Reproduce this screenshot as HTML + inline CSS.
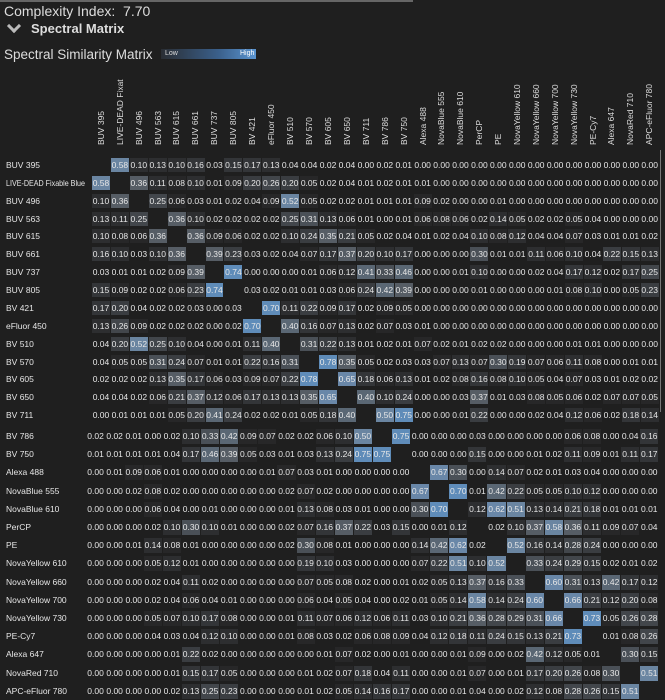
<!DOCTYPE html>
<html><head><meta charset="utf-8"><style>
body{margin:0;width:665px;height:700px;background:#1f1f1f;overflow:hidden;position:relative;font-family:"Liberation Sans",sans-serif;color:#e6e6e6}
.r{position:absolute;left:0;height:15px;width:665px}
.r span{position:absolute;top:2px;font-size:8.5px;white-space:nowrap}
.t span{left:6px}.u span{left:6px}
.r div{position:absolute;top:0;display:flex}
.t div{left:92px}.u div{left:86.5px}
b{font-weight:normal;display:block;height:14px;line-height:14px;text-align:center;font-size:8.5px;margin-right:1px;flex:none}
.t b{width:17.93px}.u b{width:18.1px;height:15px;line-height:15px}
.a{background:#272728}.b{background:#2d2e30}.c{background:#333538}.d{background:#3a3d41}.e{background:#42464b}.f{background:#4a5057}.g{background:#565d65}.h{background:#5a6774}.i{background:#6a85a1}.j{background:#6987a8}.k{background:#5f8cb9}
</style></head><body>
<div style="position:absolute;left:0;top:0;width:413px;height:2px;background:#666"></div>
<div style="position:absolute;left:4px;top:3px;font-size:14px;color:#ddd">Complexity Index:&nbsp; 7.70</div>
<div style="position:absolute;left:9px;top:21px;width:7px;height:7px;border-right:3px solid #bbb;border-bottom:3px solid #bbb;transform:rotate(45deg)"></div>
<div style="position:absolute;left:31px;top:21px;font-size:13px;font-weight:bold;color:#ddd">Spectral Matrix</div>
<div style="position:absolute;left:4px;top:47px;font-size:13.5px;color:#ddd">Spectral Similarity Matrix</div>
<div style="position:absolute;left:161px;top:49px;width:95px;height:10px;background:linear-gradient(90deg,#2a2e34,#3a5f8a 60%,#5a94d0)"></div>
<div style="position:absolute;left:165px;top:50px;font-size:7px;color:#ddd">Low</div>
<div style="position:absolute;left:240px;top:50px;font-size:7px;color:#fff">High</div>
<div style="position:absolute;left:660px;top:150px;width:1px;height:262px;background:#777"></div>
<svg width="665" height="150" style="position:absolute;left:0;top:0" font-family="Liberation Sans, sans-serif" font-size="8.5" fill="#ddd">
<text transform="translate(104,145) rotate(-90)">BUV 395</text>
<text transform="translate(123,145) rotate(-90)">LIVE-DEAD Fixat</text>
<text transform="translate(142,145) rotate(-90)">BUV 496</text>
<text transform="translate(161,145) rotate(-90)">BUV 563</text>
<text transform="translate(179,145) rotate(-90)">BUV 615</text>
<text transform="translate(198,145) rotate(-90)">BUV 661</text>
<text transform="translate(217,145) rotate(-90)">BUV 737</text>
<text transform="translate(236,145) rotate(-90)">BUV 805</text>
<text transform="translate(255,145) rotate(-90)">BV 421</text>
<text transform="translate(274,145) rotate(-90)">eFluor 450</text>
<text transform="translate(293,145) rotate(-90)">BV 510</text>
<text transform="translate(312,145) rotate(-90)">BV 570</text>
<text transform="translate(331,145) rotate(-90)">BV 605</text>
<text transform="translate(350,145) rotate(-90)">BV 650</text>
<text transform="translate(369,145) rotate(-90)">BV 711</text>
<text transform="translate(388,145) rotate(-90)">BV 786</text>
<text transform="translate(407,145) rotate(-90)">BV 750</text>
<text transform="translate(426,145) rotate(-90)">Alexa 488</text>
<text transform="translate(444,145) rotate(-90)">NovaBlue 555</text>
<text transform="translate(463,145) rotate(-90)">NovaBlue 610</text>
<text transform="translate(482,145) rotate(-90)">PerCP</text>
<text transform="translate(501,145) rotate(-90)">PE</text>
<text transform="translate(520,145) rotate(-90)">NovaYellow 610</text>
<text transform="translate(539,145) rotate(-90)">NovaYellow 660</text>
<text transform="translate(558,145) rotate(-90)">NovaYellow 700</text>
<text transform="translate(577,145) rotate(-90)">NovaYellow 730</text>
<text transform="translate(596,145) rotate(-90)">PE-Cy7</text>
<text transform="translate(614,145) rotate(-90)">Alexa 647</text>
<text transform="translate(633,145) rotate(-90)">NovaRed 710</text>
<text transform="translate(652,145) rotate(-90)">APC-eFluor 780</text>
</svg>

<div class="r t" style="top:158px"><span>BUV 395</span><div><b></b><b class=i>0.58</b><b class=b>0.10</b><b class=b>0.13</b><b class=b>0.10</b><b class=c>0.16</b><b>0.03</b><b class=c>0.15</b><b class=c>0.17</b><b class=b>0.13</b><b>0.04</b><b>0.04</b><b>0.02</b><b>0.04</b><b>0.00</b><b>0.02</b><b>0.01</b><b>0.00</b><b>0.00</b><b>0.00</b><b>0.00</b><b>0.00</b><b>0.00</b><b>0.00</b><b>0.00</b><b>0.00</b><b>0.00</b><b>0.00</b><b>0.00</b><b>0.00</b></div></div>
<div class="r t" style="top:175.9px"><span style="transform:scaleX(0.84);transform-origin:0 0">LIVE-DEAD Fixable Blue</span><div><b class=i>0.58</b><b></b><b class=g>0.36</b><b class=b>0.11</b><b class=a>0.08</b><b class=b>0.10</b><b>0.01</b><b class=a>0.09</b><b class=d>0.20</b><b class=e>0.26</b><b class=d>0.20</b><b class=a>0.05</b><b>0.02</b><b>0.04</b><b>0.01</b><b>0.02</b><b>0.01</b><b>0.01</b><b>0.00</b><b>0.00</b><b>0.00</b><b>0.00</b><b>0.00</b><b>0.00</b><b>0.00</b><b>0.00</b><b>0.00</b><b>0.00</b><b>0.00</b><b>0.00</b></div></div>
<div class="r t" style="top:193.7px"><span>BUV 496</span><div><b class=b>0.10</b><b class=g>0.36</b><b></b><b class=e>0.25</b><b class=a>0.06</b><b>0.03</b><b>0.01</b><b>0.02</b><b>0.04</b><b class=a>0.09</b><b class=i>0.52</b><b class=a>0.05</b><b>0.02</b><b>0.02</b><b>0.01</b><b>0.01</b><b>0.01</b><b class=a>0.09</b><b>0.02</b><b>0.00</b><b>0.00</b><b>0.01</b><b>0.00</b><b>0.00</b><b>0.00</b><b>0.00</b><b>0.00</b><b>0.00</b><b>0.00</b><b>0.00</b></div></div>
<div class="r t" style="top:211.6px"><span>BUV 563</span><div><b class=b>0.13</b><b class=b>0.11</b><b class=e>0.25</b><b></b><b class=g>0.36</b><b class=b>0.10</b><b>0.02</b><b>0.02</b><b>0.02</b><b>0.02</b><b class=e>0.25</b><b class=f>0.31</b><b class=b>0.13</b><b class=a>0.06</b><b>0.01</b><b>0.00</b><b>0.01</b><b class=a>0.06</b><b class=a>0.08</b><b class=a>0.06</b><b>0.02</b><b class=b>0.14</b><b class=a>0.05</b><b>0.02</b><b>0.02</b><b class=a>0.05</b><b>0.04</b><b>0.00</b><b>0.00</b><b>0.00</b></div></div>
<div class="r t" style="top:229.4px"><span>BUV 615</span><div><b class=b>0.10</b><b class=a>0.08</b><b class=a>0.06</b><b class=g>0.36</b><b></b><b class=g>0.36</b><b class=a>0.09</b><b class=a>0.06</b><b>0.02</b><b>0.02</b><b class=b>0.10</b><b class=d>0.24</b><b class=g>0.35</b><b class=d>0.21</b><b class=a>0.05</b><b>0.02</b><b>0.04</b><b>0.01</b><b>0.02</b><b>0.04</b><b class=b>0.10</b><b class=a>0.08</b><b class=b>0.12</b><b>0.04</b><b>0.04</b><b class=a>0.07</b><b>0.03</b><b>0.01</b><b>0.01</b><b>0.02</b></div></div>
<div class="r t" style="top:247.3px"><span>BUV 661</span><div><b class=c>0.16</b><b class=b>0.10</b><b>0.03</b><b class=b>0.10</b><b class=g>0.36</b><b></b><b class=g>0.39</b><b class=d>0.23</b><b>0.03</b><b>0.02</b><b>0.04</b><b class=a>0.07</b><b class=c>0.17</b><b class=g>0.37</b><b class=d>0.20</b><b class=b>0.10</b><b class=c>0.17</b><b>0.00</b><b>0.00</b><b>0.00</b><b class=f>0.30</b><b>0.01</b><b>0.01</b><b class=b>0.11</b><b class=a>0.06</b><b class=b>0.10</b><b>0.04</b><b class=d>0.22</b><b class=c>0.15</b><b class=b>0.13</b></div></div>
<div class="r t" style="top:265.2px"><span>BUV 737</span><div><b>0.03</b><b>0.01</b><b>0.01</b><b>0.02</b><b class=a>0.09</b><b class=g>0.39</b><b></b><b class=k>0.74</b><b>0.00</b><b>0.00</b><b>0.00</b><b>0.01</b><b class=a>0.06</b><b class=b>0.12</b><b class=h>0.41</b><b class=f>0.33</b><b class=h>0.46</b><b>0.00</b><b>0.00</b><b>0.01</b><b class=b>0.10</b><b>0.00</b><b>0.00</b><b>0.02</b><b>0.04</b><b class=c>0.17</b><b class=b>0.12</b><b>0.02</b><b class=c>0.17</b><b class=e>0.25</b></div></div>
<div class="r t" style="top:283px"><span>BUV 805</span><div><b class=c>0.15</b><b class=a>0.09</b><b>0.02</b><b>0.02</b><b class=a>0.06</b><b class=d>0.23</b><b class=k>0.74</b><b></b><b>0.03</b><b>0.02</b><b>0.01</b><b>0.01</b><b>0.03</b><b class=a>0.06</b><b class=d>0.24</b><b class=h>0.42</b><b class=g>0.39</b><b>0.00</b><b>0.00</b><b>0.00</b><b>0.01</b><b>0.00</b><b>0.00</b><b>0.00</b><b>0.01</b><b class=a>0.08</b><b class=b>0.10</b><b>0.00</b><b class=a>0.05</b><b class=d>0.23</b></div></div>
<div class="r t" style="top:300.9px"><span>BV 421</span><div><b class=c>0.17</b><b class=d>0.20</b><b>0.04</b><b>0.02</b><b>0.02</b><b>0.03</b><b>0.00</b><b>0.03</b><b></b><b class=k>0.70</b><b class=b>0.11</b><b class=d>0.22</b><b class=a>0.09</b><b class=c>0.17</b><b>0.02</b><b class=a>0.09</b><b class=a>0.05</b><b>0.00</b><b>0.00</b><b>0.00</b><b>0.00</b><b>0.00</b><b>0.00</b><b>0.00</b><b>0.00</b><b>0.00</b><b>0.00</b><b>0.00</b><b>0.00</b><b>0.00</b></div></div>
<div class="r t" style="top:318.7px"><span>eFluor 450</span><div><b class=b>0.13</b><b class=e>0.26</b><b class=a>0.09</b><b>0.02</b><b>0.02</b><b>0.02</b><b>0.00</b><b>0.02</b><b class=k>0.70</b><b></b><b class=h>0.40</b><b class=c>0.16</b><b class=a>0.07</b><b class=b>0.13</b><b>0.02</b><b class=a>0.07</b><b>0.03</b><b>0.01</b><b>0.00</b><b>0.00</b><b>0.00</b><b>0.00</b><b>0.00</b><b>0.00</b><b>0.00</b><b>0.00</b><b>0.00</b><b>0.00</b><b>0.00</b><b>0.00</b></div></div>
<div class="r t" style="top:336.6px"><span>BV 510</span><div><b>0.04</b><b class=d>0.20</b><b class=i>0.52</b><b class=e>0.25</b><b class=b>0.10</b><b>0.04</b><b>0.00</b><b>0.01</b><b class=b>0.11</b><b class=h>0.40</b><b></b><b class=f>0.31</b><b class=d>0.22</b><b class=b>0.13</b><b>0.01</b><b>0.02</b><b>0.01</b><b class=a>0.07</b><b>0.02</b><b>0.01</b><b>0.02</b><b>0.02</b><b>0.00</b><b>0.00</b><b>0.00</b><b>0.01</b><b>0.01</b><b>0.00</b><b>0.00</b><b>0.00</b></div></div>
<div class="r t" style="top:354.5px"><span>BV 570</span><div><b>0.04</b><b class=a>0.05</b><b class=a>0.05</b><b class=f>0.31</b><b class=d>0.24</b><b class=a>0.07</b><b>0.01</b><b>0.01</b><b class=d>0.22</b><b class=c>0.16</b><b class=f>0.31</b><b></b><b class=k>0.78</b><b class=g>0.35</b><b class=a>0.05</b><b>0.02</b><b>0.03</b><b>0.03</b><b class=a>0.07</b><b class=b>0.13</b><b class=a>0.07</b><b class=f>0.30</b><b class=c>0.19</b><b class=a>0.07</b><b class=a>0.06</b><b class=b>0.11</b><b class=a>0.08</b><b>0.00</b><b>0.01</b><b>0.01</b></div></div>
<div class="r t" style="top:372.3px"><span>BV 605</span><div><b>0.02</b><b>0.02</b><b>0.02</b><b class=b>0.13</b><b class=g>0.35</b><b class=c>0.17</b><b class=a>0.06</b><b>0.03</b><b class=a>0.09</b><b class=a>0.07</b><b class=d>0.22</b><b class=k>0.78</b><b></b><b class=j>0.65</b><b class=c>0.18</b><b class=a>0.06</b><b class=b>0.13</b><b>0.01</b><b>0.02</b><b class=a>0.08</b><b class=c>0.16</b><b class=a>0.08</b><b class=b>0.10</b><b class=a>0.05</b><b>0.04</b><b class=a>0.07</b><b>0.03</b><b>0.01</b><b>0.02</b><b>0.02</b></div></div>
<div class="r t" style="top:390.2px"><span>BV 650</span><div><b>0.04</b><b>0.04</b><b>0.02</b><b class=a>0.06</b><b class=d>0.21</b><b class=g>0.37</b><b class=b>0.12</b><b class=a>0.06</b><b class=c>0.17</b><b class=b>0.13</b><b class=b>0.13</b><b class=g>0.35</b><b class=j>0.65</b><b></b><b class=h>0.40</b><b class=b>0.10</b><b class=d>0.24</b><b>0.00</b><b>0.00</b><b>0.03</b><b class=g>0.37</b><b>0.01</b><b>0.03</b><b class=a>0.08</b><b class=a>0.05</b><b class=a>0.06</b><b>0.02</b><b class=a>0.07</b><b class=a>0.07</b><b class=a>0.05</b></div></div>
<div class="r t" style="top:408px"><span>BV 711</span><div><b>0.00</b><b>0.01</b><b>0.01</b><b>0.01</b><b class=a>0.05</b><b class=d>0.20</b><b class=h>0.41</b><b class=d>0.24</b><b>0.02</b><b>0.02</b><b>0.01</b><b class=a>0.05</b><b class=c>0.18</b><b class=h>0.40</b><b></b><b class=i>0.50</b><b class=k>0.75</b><b>0.00</b><b>0.00</b><b>0.01</b><b class=d>0.22</b><b>0.00</b><b>0.00</b><b>0.02</b><b>0.04</b><b class=b>0.12</b><b class=a>0.06</b><b>0.02</b><b class=c>0.18</b><b class=b>0.14</b></div></div>

<div class="r u" style="top:429px"><span>BV 786</span><div><b>0.02</b><b>0.02</b><b>0.01</b><b>0.00</b><b>0.02</b><b class=b>0.10</b><b class=f>0.33</b><b class=h>0.42</b><b class=a>0.09</b><b class=a>0.07</b><b>0.02</b><b>0.02</b><b class=a>0.06</b><b class=b>0.10</b><b class=i>0.50</b><b></b><b class=k>0.75</b><b>0.00</b><b>0.00</b><b>0.00</b><b>0.03</b><b>0.00</b><b>0.00</b><b>0.00</b><b>0.00</b><b class=a>0.06</b><b class=a>0.08</b><b>0.00</b><b>0.04</b><b class=c>0.16</b></div></div>
<div class="r u" style="top:447.2px"><span>BV 750</span><div><b>0.01</b><b>0.01</b><b>0.01</b><b>0.01</b><b>0.04</b><b class=c>0.17</b><b class=h>0.46</b><b class=g>0.39</b><b class=a>0.05</b><b>0.03</b><b>0.01</b><b>0.03</b><b class=b>0.13</b><b class=d>0.24</b><b class=k>0.75</b><b class=k>0.75</b><b></b><b>0.00</b><b>0.00</b><b>0.00</b><b class=c>0.15</b><b>0.00</b><b>0.00</b><b>0.01</b><b>0.02</b><b class=b>0.11</b><b class=a>0.09</b><b>0.01</b><b class=b>0.11</b><b class=c>0.17</b></div></div>
<div class="r u" style="top:465.4px"><span>Alexa 488</span><div><b>0.00</b><b>0.01</b><b class=a>0.09</b><b class=a>0.06</b><b>0.01</b><b>0.00</b><b>0.00</b><b>0.00</b><b>0.00</b><b>0.01</b><b class=a>0.07</b><b>0.03</b><b>0.01</b><b>0.00</b><b>0.00</b><b>0.00</b><b>0.00</b><b></b><b class=j>0.67</b><b class=f>0.30</b><b>0.00</b><b class=b>0.14</b><b class=a>0.07</b><b>0.02</b><b>0.01</b><b>0.03</b><b>0.04</b><b>0.00</b><b>0.00</b><b>0.00</b></div></div>
<div class="r u" style="top:483.6px"><span>NovaBlue 555</span><div><b>0.00</b><b>0.00</b><b>0.02</b><b class=a>0.08</b><b>0.02</b><b>0.00</b><b>0.00</b><b>0.00</b><b>0.00</b><b>0.00</b><b>0.02</b><b class=a>0.07</b><b>0.02</b><b>0.00</b><b>0.00</b><b>0.00</b><b>0.00</b><b class=j>0.67</b><b></b><b class=k>0.70</b><b>0.01</b><b class=h>0.42</b><b class=d>0.22</b><b class=a>0.05</b><b class=a>0.05</b><b class=b>0.10</b><b class=b>0.12</b><b>0.00</b><b>0.00</b><b>0.00</b></div></div>
<div class="r u" style="top:501.8px"><span>NovaBlue 610</span><div><b>0.00</b><b>0.00</b><b>0.00</b><b class=a>0.06</b><b>0.04</b><b>0.00</b><b>0.01</b><b>0.00</b><b>0.00</b><b>0.00</b><b>0.01</b><b class=b>0.13</b><b class=a>0.08</b><b>0.03</b><b>0.01</b><b>0.00</b><b>0.00</b><b class=f>0.30</b><b class=k>0.70</b><b></b><b class=b>0.12</b><b class=j>0.62</b><b class=i>0.51</b><b class=b>0.13</b><b class=b>0.14</b><b class=d>0.21</b><b class=c>0.18</b><b>0.01</b><b>0.01</b><b>0.01</b></div></div>
<div class="r u" style="top:520px"><span>PerCP</span><div><b>0.00</b><b>0.00</b><b>0.00</b><b>0.02</b><b class=b>0.10</b><b class=f>0.30</b><b class=b>0.10</b><b>0.01</b><b>0.00</b><b>0.00</b><b>0.02</b><b class=a>0.07</b><b class=c>0.16</b><b class=g>0.37</b><b class=d>0.22</b><b>0.03</b><b class=c>0.15</b><b>0.00</b><b>0.01</b><b class=b>0.12</b><b></b><b>0.02</b><b class=b>0.10</b><b class=g>0.37</b><b class=i>0.58</b><b class=g>0.36</b><b class=b>0.11</b><b class=a>0.09</b><b class=a>0.07</b><b>0.04</b></div></div>
<div class="r u" style="top:538.2px"><span>PE</span><div><b>0.00</b><b>0.00</b><b>0.01</b><b class=b>0.14</b><b class=a>0.08</b><b>0.01</b><b>0.00</b><b>0.00</b><b>0.00</b><b>0.00</b><b>0.02</b><b class=f>0.30</b><b class=a>0.08</b><b>0.01</b><b>0.00</b><b>0.00</b><b>0.00</b><b class=b>0.14</b><b class=h>0.42</b><b class=j>0.62</b><b>0.02</b><b></b><b class=i>0.52</b><b class=c>0.16</b><b class=b>0.14</b><b class=e>0.28</b><b class=d>0.24</b><b>0.00</b><b>0.00</b><b>0.00</b></div></div>
<div class="r u" style="top:556.4px"><span>NovaYellow 610</span><div><b>0.00</b><b>0.00</b><b>0.00</b><b class=a>0.05</b><b class=b>0.12</b><b>0.01</b><b>0.00</b><b>0.00</b><b>0.00</b><b>0.00</b><b>0.00</b><b class=c>0.19</b><b class=b>0.10</b><b>0.03</b><b>0.00</b><b>0.00</b><b>0.00</b><b class=a>0.07</b><b class=d>0.22</b><b class=i>0.51</b><b class=b>0.10</b><b class=i>0.52</b><b></b><b class=f>0.33</b><b class=d>0.24</b><b class=e>0.29</b><b class=c>0.15</b><b>0.02</b><b>0.01</b><b>0.02</b></div></div>
<div class="r u" style="top:574.6px"><span>NovaYellow 660</span><div><b>0.00</b><b>0.00</b><b>0.00</b><b>0.02</b><b>0.04</b><b class=b>0.11</b><b>0.02</b><b>0.00</b><b>0.00</b><b>0.00</b><b>0.00</b><b class=a>0.07</b><b class=a>0.05</b><b class=a>0.08</b><b>0.02</b><b>0.00</b><b>0.01</b><b>0.02</b><b class=a>0.05</b><b class=b>0.13</b><b class=g>0.37</b><b class=c>0.16</b><b class=f>0.33</b><b></b><b class=j>0.60</b><b class=f>0.31</b><b class=b>0.13</b><b class=h>0.42</b><b class=c>0.17</b><b class=b>0.12</b></div></div>
<div class="r u" style="top:592.8px"><span>NovaYellow 700</span><div><b>0.00</b><b>0.00</b><b>0.00</b><b>0.02</b><b>0.04</b><b class=a>0.06</b><b>0.04</b><b>0.01</b><b>0.00</b><b>0.00</b><b>0.00</b><b class=a>0.06</b><b>0.04</b><b class=a>0.05</b><b>0.04</b><b>0.00</b><b>0.02</b><b>0.01</b><b class=a>0.05</b><b class=b>0.14</b><b class=i>0.58</b><b class=b>0.14</b><b class=d>0.24</b><b class=j>0.60</b><b></b><b class=j>0.66</b><b class=d>0.21</b><b class=b>0.12</b><b class=d>0.20</b><b class=a>0.08</b></div></div>
<div class="r u" style="top:611px"><span>NovaYellow 730</span><div><b>0.00</b><b>0.00</b><b>0.00</b><b class=a>0.05</b><b class=a>0.07</b><b class=b>0.10</b><b class=c>0.17</b><b class=a>0.08</b><b>0.00</b><b>0.00</b><b>0.01</b><b class=b>0.11</b><b class=a>0.07</b><b class=a>0.06</b><b class=b>0.12</b><b class=a>0.06</b><b class=b>0.11</b><b>0.03</b><b class=b>0.10</b><b class=d>0.21</b><b class=g>0.36</b><b class=e>0.28</b><b class=e>0.29</b><b class=f>0.31</b><b class=j>0.66</b><b></b><b class=k>0.73</b><b class=a>0.05</b><b class=e>0.26</b><b class=e>0.28</b></div></div>
<div class="r u" style="top:629.2px"><span>PE-Cy7</span><div><b>0.00</b><b>0.00</b><b>0.00</b><b>0.04</b><b>0.03</b><b>0.04</b><b class=b>0.12</b><b class=b>0.10</b><b>0.00</b><b>0.00</b><b>0.01</b><b class=a>0.08</b><b>0.03</b><b>0.02</b><b class=a>0.06</b><b class=a>0.08</b><b class=a>0.09</b><b>0.04</b><b class=b>0.12</b><b class=c>0.18</b><b class=b>0.11</b><b class=d>0.24</b><b class=c>0.15</b><b class=b>0.13</b><b class=d>0.21</b><b class=k>0.73</b><b></b><b>0.01</b><b class=a>0.08</b><b class=e>0.26</b></div></div>
<div class="r u" style="top:647.4px"><span>Alexa 647</span><div><b>0.00</b><b>0.00</b><b>0.00</b><b>0.00</b><b>0.01</b><b class=d>0.22</b><b>0.02</b><b>0.00</b><b>0.00</b><b>0.00</b><b>0.00</b><b>0.00</b><b>0.01</b><b class=a>0.07</b><b>0.02</b><b>0.00</b><b>0.01</b><b>0.00</b><b>0.00</b><b>0.01</b><b class=a>0.09</b><b>0.00</b><b>0.02</b><b class=h>0.42</b><b class=b>0.12</b><b class=a>0.05</b><b>0.01</b><b></b><b class=f>0.30</b><b class=c>0.15</b></div></div>
<div class="r u" style="top:665.6px"><span>NovaRed 710</span><div><b>0.00</b><b>0.00</b><b>0.00</b><b>0.00</b><b>0.01</b><b class=c>0.15</b><b class=c>0.17</b><b class=a>0.05</b><b>0.00</b><b>0.00</b><b>0.00</b><b>0.01</b><b>0.02</b><b class=a>0.07</b><b class=c>0.18</b><b>0.04</b><b class=b>0.11</b><b>0.00</b><b>0.00</b><b>0.01</b><b class=a>0.07</b><b>0.00</b><b>0.01</b><b class=c>0.17</b><b class=d>0.20</b><b class=e>0.26</b><b class=a>0.08</b><b class=f>0.30</b><b></b><b class=i>0.51</b></div></div>
<div class="r u" style="top:683.8px"><span>APC-eFluor 780</span><div><b>0.00</b><b>0.00</b><b>0.00</b><b>0.00</b><b>0.02</b><b class=b>0.13</b><b class=e>0.25</b><b class=d>0.23</b><b>0.00</b><b>0.00</b><b>0.00</b><b>0.01</b><b>0.02</b><b class=a>0.05</b><b class=b>0.14</b><b class=c>0.16</b><b class=c>0.17</b><b>0.00</b><b>0.00</b><b>0.01</b><b>0.04</b><b>0.00</b><b>0.02</b><b class=b>0.12</b><b class=a>0.08</b><b class=e>0.28</b><b class=e>0.26</b><b class=c>0.15</b><b class=i>0.51</b><b></b></div></div>
</body></html>
